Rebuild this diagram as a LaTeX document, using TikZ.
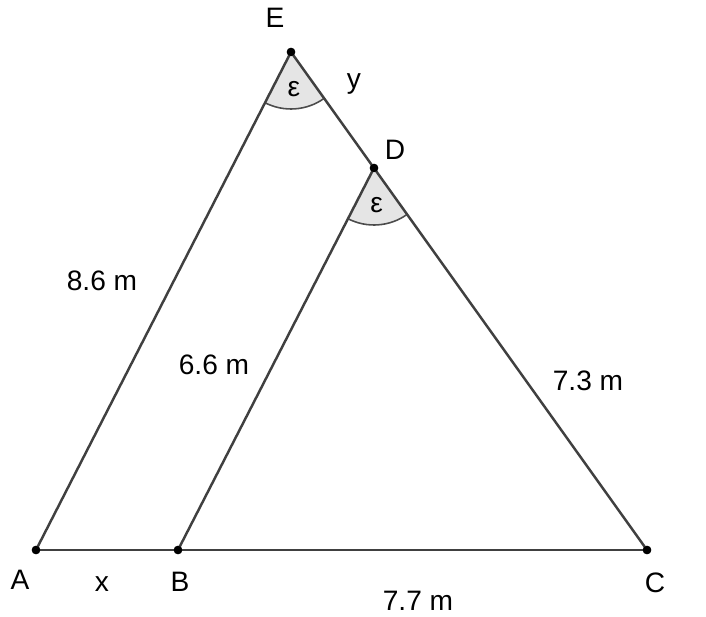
\documentclass[tikz,border=0pt]{standalone}
\usepackage{fontspec}
\setmainfont{Liberation Sans}
\usepackage{tikz}
\usetikzlibrary{angles,quotes}

\begin{document}
\begin{tikzpicture}[font=\fontsize{16}{19}\selectfont]
    % Define styles
    \tikzstyle{point} = [circle, fill=black, inner sep=0pt, minimum size=4.8pt]
    \tikzstyle{side} = [draw=black!75, line width=1.4pt]
    \tikzstyle{anglemark} = [draw=black!70, line width=0.9pt, fill=black!10, angle radius=1.14cm, angle eccentricity=0.66]
    \useasboundingbox (0,0) rectangle (14.12,12.32);

    % Nodes
    \node[point] (A) at (0.72,1.32) {};
    \node[point] (B) at (3.56,1.32) {};
    \node[point] (C) at (12.94,1.32) {};
    \node[point] (E) at (5.82,11.28) {};
    \node[point] (D) at (7.48,8.96) {};

    % Angles
    \pic[anglemark, "ε"] {angle=A--E--C};
    \pic[anglemark, "ε"] {angle=B--D--C};

    % Connections
    \draw[side] (A.center) -- (C.center);
    \draw[side] (A.center) -- (E.center);
    \draw[side] (E.center) -- (C.center);
    \draw[side] (B.center) -- (D.center);
    \node[point] at (A) {};
    \node[point] at (B) {};
    \node[point] at (C) {};
    \node[point] at (E) {};
    \node[point] at (D) {};

    % Labels
    \node (lE) at (5.50,11.96) {E};
    \node (lD) at (7.90,9.32) {D};
    \node (lA) at (0.40,0.72) {A};
    \node (lB) at (3.60,0.68) {B};
    \node (lC) at (13.10,0.66) {C};
    \node (ly) at (7.08,10.64) {y};
    \node (lx) at (2.04,0.64) {x};
    \node (lAE) at (2.04,6.70) {8.6 m};
    \node (lBD) at (4.28,5.02) {6.6 m};
    \node (lDC) at (11.76,4.70) {7.3 m};
    \node (lBC) at (8.36,0.30) {7.7 m};
\end{tikzpicture}
\end{document}
